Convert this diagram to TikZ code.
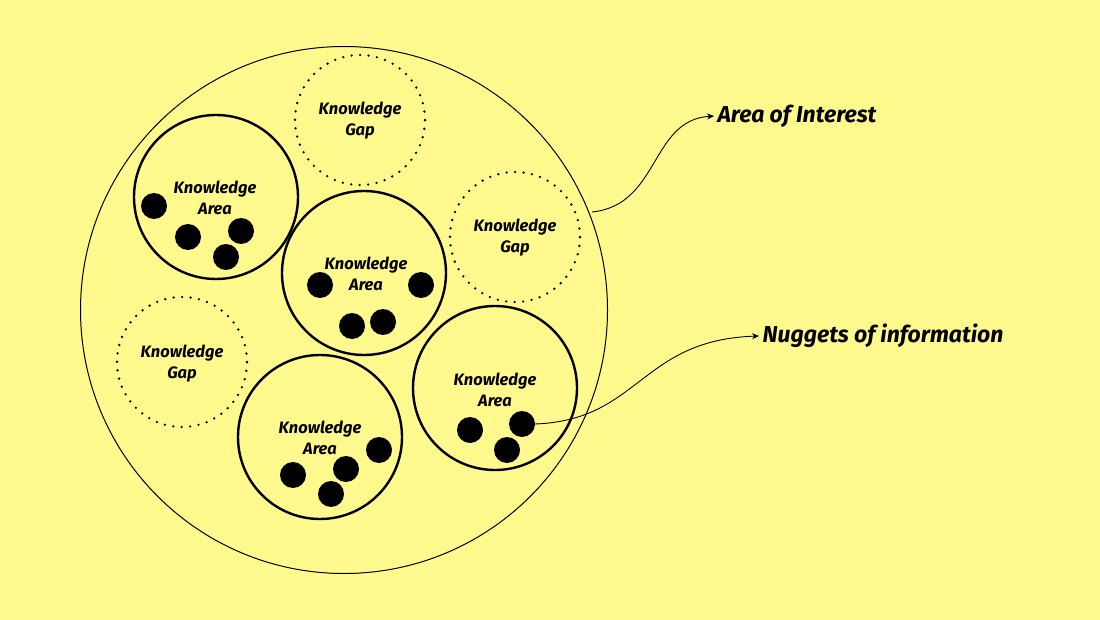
\documentclass[tikz,border=0pt]{standalone}
\usepackage{fontspec}
\setmainfont{Fira Sans}
\usetikzlibrary{arrows.meta}
\definecolor{bg}{HTML}{FFF98E}
\begin{document}
\begin{tikzpicture}[x=1pt,y=-1pt,
  area/.style={circle,draw,line width=2.4pt,minimum size=164pt,inner sep=0pt},
  gap/.style={circle,draw,line width=2.6pt,dash pattern=on 0pt off 8.5pt,line cap=round,minimum size=130pt,inner sep=0pt},
  dot/.style={circle,fill=black,minimum size=26pt,inner sep=0pt},
  lbl/.style={font=\fontsize{16.5}{21}\selectfont\bfseries\itshape,align=center},
  big/.style={font=\fontsize{23}{27}\selectfont\bfseries\itshape,anchor=west},
  conn/.style={-{Stealth[length=7pt,width=6pt]},line width=0.9pt}]
\fill[bg] (0,0) rectangle (1100,620);
\useasboundingbox (0,0) rectangle (1100,620);
\node[circle,draw,line width=1pt,minimum size=527pt,inner sep=0pt] (outer) at (344,310) {};
\node[gap] (g1) at (360,120) {};
\node[gap] (g2) at (515,237) {};
\node[gap] (g3) at (182,362) {};
\node[area] (a1) at (216,197) {};
\node[area] (a2) at (364,273) {};
\node[area] (a3) at (320,437) {};
\node[area] (a4) at (495,388) {};
\node[lbl] (t1) at (215,198) {Knowledge\\Area};
\node[lbl] (t2) at (366,274) {Knowledge\\Area};
\node[lbl] (t3) at (320,438) {Knowledge\\Area};
\node[lbl] (t4) at (495,390) {Knowledge\\Area};
\node[lbl] (tg1) at (360,121) {Knowledge\\Gap};
\node[lbl] (tg2) at (515,238) {Knowledge\\Gap};
\node[lbl] (tg3) at (182,364) {Knowledge\\Gap};
\foreach \n/\x/\y in {d1/154/206,d2/188/237,d3/241/231,d4/226/257,
  d5/320/285,d6/421/285,d7/352/326,d8/383/322,
  d9/293/475,d10/346/469,d11/379/450,d12/331/494,
  d13/470/430,d14/522/424,d15/507/450}
  \node[dot] (\n) at (\x,\y) {};
\node[big] (aoi) at (714,116) {Area of Interest};
\node[big] (nug) at (759,336) {Nuggets of information};
\coordinate (o1) at (592,212);
\draw[conn] (o1) .. controls (660,205) and (650,120) .. (aoi.west);
\draw[conn] (d14.east) .. controls (640,420) and (640,340) .. (nug.west);
\end{tikzpicture}
\end{document}
